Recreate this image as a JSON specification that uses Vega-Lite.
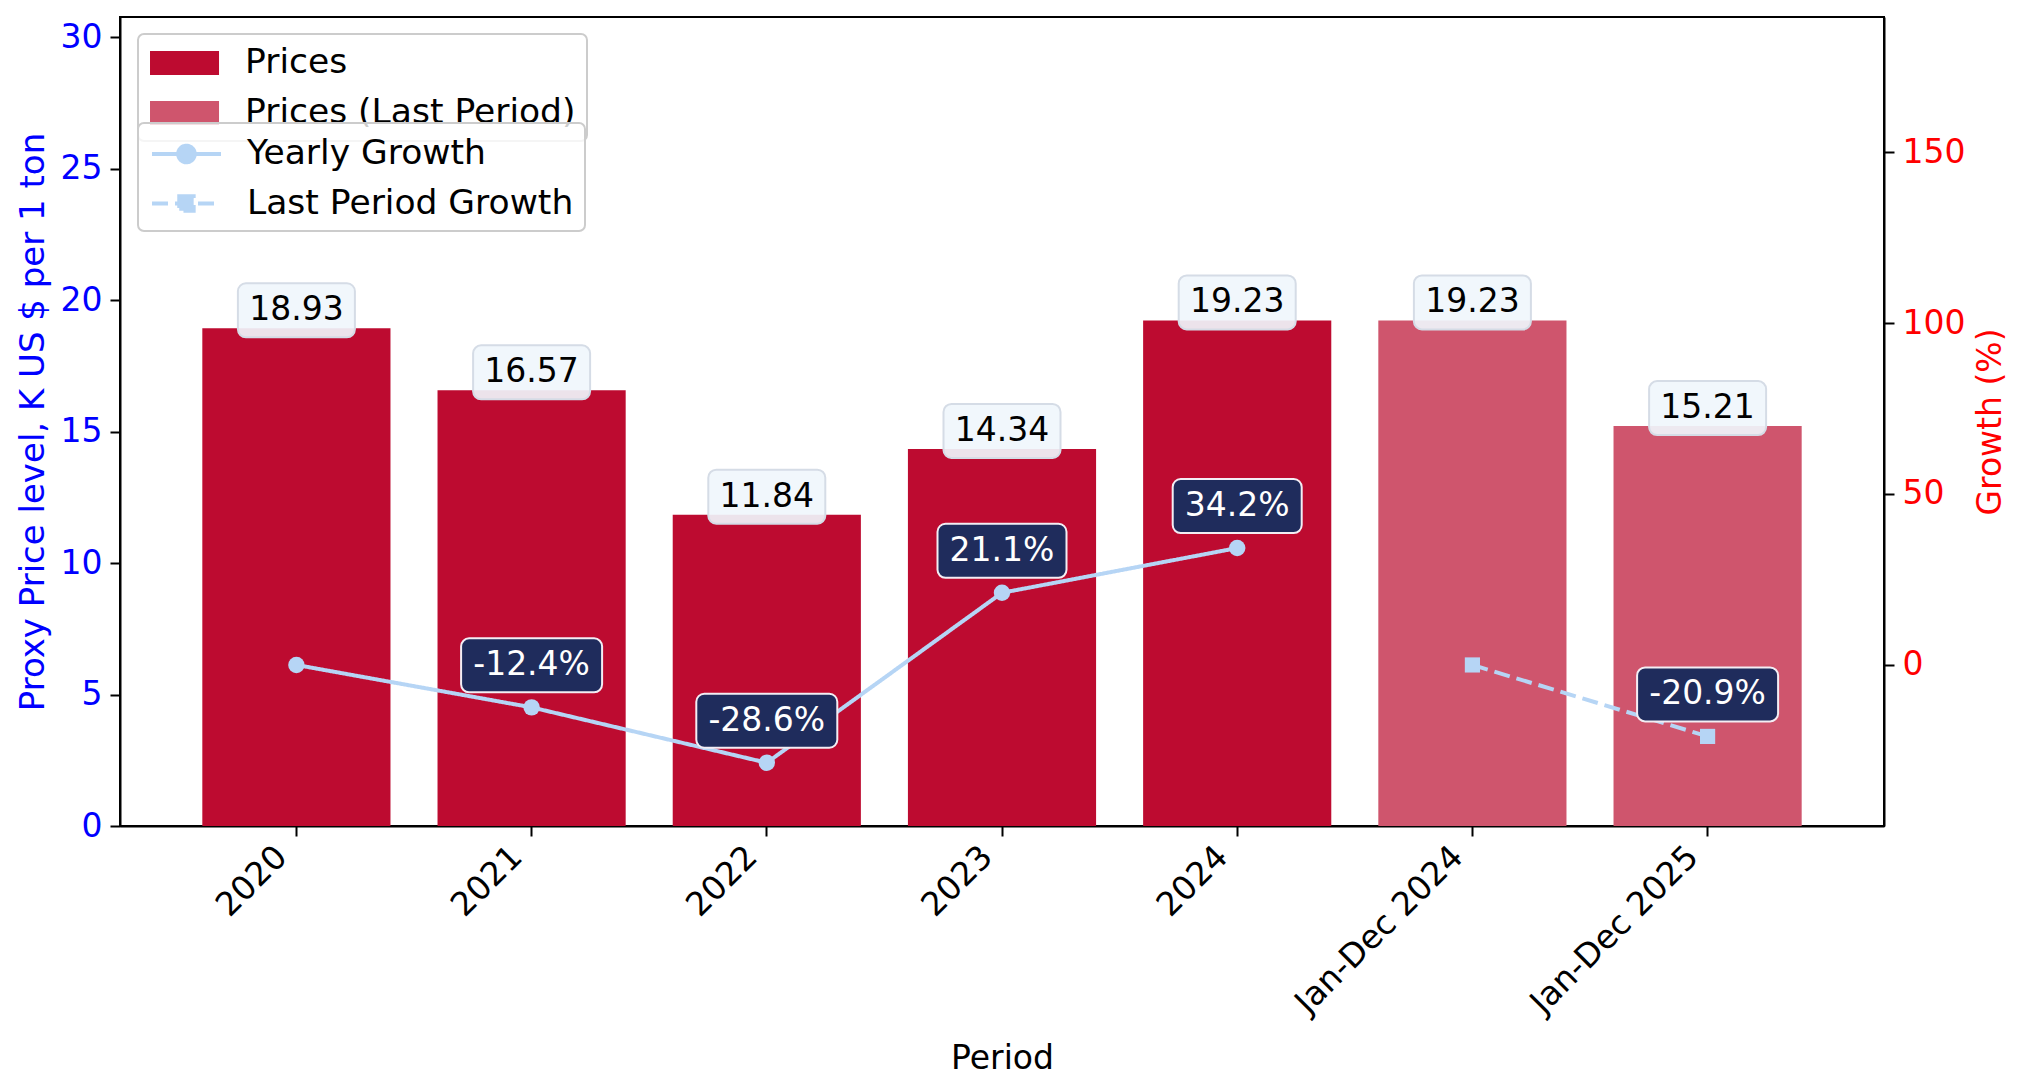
{
  "$schema": "https://vega.github.io/schema/vega-lite/v6.json",
  "width": 1764,
  "height": 809,
  "autosize": {"type": "none"},
  "padding": {"left": 120, "top": 17, "right": 141, "bottom": 261},
  "background": "white",
  "config": {
    "font": "DejaVu Sans",
    "view": {"stroke": "#000000", "strokeWidth": 2},
    "axis": {
      "domainColor": "#000000", "domainWidth": 2,
      "tickColor": "#000000", "tickWidth": 2, "tickSize": 10,
      "labelFont": "DejaVu Sans", "labelFontSize": 33,
      "titleFont": "DejaVu Sans", "titleFontSize": 33, "titleFontWeight": "normal",
      "grid": false
    }
  },
  "data": {
    "values": [
      {"period": "2020", "price": 18.93, "barType": "Prices", "growth": 0, "series": "Yearly Growth", "glabel": null},
      {"period": "2021", "price": 16.57, "barType": "Prices", "growth": -12.4, "series": "Yearly Growth", "glabel": "-12.4%"},
      {"period": "2022", "price": 11.84, "barType": "Prices", "growth": -28.6, "series": "Yearly Growth", "glabel": "-28.6%"},
      {"period": "2023", "price": 14.34, "barType": "Prices", "growth": 21.1, "series": "Yearly Growth", "glabel": "21.1%"},
      {"period": "2024", "price": 19.23, "barType": "Prices", "growth": 34.2, "series": "Yearly Growth", "glabel": "34.2%"},
      {"period": "Jan-Dec 2024", "price": 19.23, "barType": "Prices (Last Period)", "growth": 0, "series": "Last Period Growth", "glabel": null},
      {"period": "Jan-Dec 2025", "price": 15.21, "barType": "Prices (Last Period)", "growth": -20.9, "series": "Last Period Growth", "glabel": "-20.9%"}
    ]
  },
  "encoding": {
    "x": {
      "field": "period", "type": "nominal", "sort": null,
      "scale": {"type": "band", "paddingInner": 0.2, "paddingOuter": 0.35},
      "axis": {
        "title": "Period", "labelAngle": -45, "labelAlign": "right", "labelBaseline": "top",
        "labelPadding": 4, "labelOffset": -26, "labelColor": "#000000", "titleColor": "#000000",
        "titleY": 232, "titleBaseline": "middle", "labelLimit": 1000
      }
    }
  },
  "layer": [
    {
      "layer": [
        {
          "mark": {"type": "bar"},
          "encoding": {
            "y": {
              "field": "price", "type": "quantitative",
              "scale": {"domain": [0, 30.77], "nice": false, "zero": true},
              "axis": {
                "orient": "left", "title": "Proxy Price level, K US $ per 1 ton",
                "values": [0, 5, 10, 15, 20, 25, 30], "labelPadding": 8,
                "labelColor": "#0000FF", "titleColor": "#0000FF", "titleFontSize": 34,
                "titleX": -87, "titleY": 404.5, "titleAngle": -90,
                "titleAlign": "center", "titleBaseline": "middle"
              }
            },
            "fill": {
              "field": "barType", "type": "nominal",
              "scale": {"domain": ["Prices", "Prices (Last Period)"], "range": ["#BD0B30", "#CF556D"]},
              "legend": {
                "title": null, "orient": "none", "legendX": 18, "legendY": 17,
                "symbolType": "M-0.944,-0.667L2.89,-0.667L2.89,0.667L-0.944,0.667Z",
                "symbolSize": 1296, "symbolStrokeWidth": 0,
                "labelFontSize": 34.5, "labelFont": "DejaVu Sans", "labelColor": "#000000",
                "labelOffset": 60, "padding": 11, "rowPadding": 15, "labelLimit": 1000,
                "fillColor": "rgba(255,255,255,0.8)", "strokeColor": "#CCCCCC", "cornerRadius": 6,
                "encode": {"legend": {"update": {"strokeWidth": {"value": 2}}}}
              }
            }
          }
        },
        {
          "mark": {
            "type": "bar", "width": 117, "yOffset": -45, "y2Offset": 9, "cornerRadius": 8,
            "fill": "#F0F6FC", "fillOpacity": 0.92, "stroke": "#D5DCE6", "strokeWidth": 2
          },
          "encoding": {
            "y": {"field": "price", "type": "quantitative"},
            "y2": {"field": "price"}
          }
        },
        {
          "mark": {"type": "text", "baseline": "middle", "dy": -18, "fontSize": 33, "color": "#000000"},
          "encoding": {
            "y": {"field": "price", "type": "quantitative"},
            "text": {"field": "price", "type": "quantitative", "format": ".2f"}
          }
        }
      ]
    },
    {
      "layer": [
        {
          "mark": {"type": "line", "strokeWidth": 4},
          "encoding": {
            "y": {
              "field": "growth", "type": "quantitative",
              "scale": {"domain": [-47.1, 189.5], "nice": false, "zero": false},
              "axis": {
                "orient": "right", "title": "Growth (%)", "values": [0, 50, 100, 150],
                "labelPadding": 8, "labelColor": "#FF0000", "titleColor": "#FF0000",
                "titleX": 106, "titleY": 404.5, "titleAngle": -90,
                "titleAlign": "center", "titleBaseline": "middle"
              }
            },
            "stroke": {
              "field": "series", "type": "nominal",
              "scale": {"domain": ["Yearly Growth", "Last Period Growth"], "range": ["#B6D5F5", "#B6D5F5"]},
              "legend": {
                "title": null, "orient": "none", "legendX": 18, "legendY": 106,
                "symbolType": "M-0.944,0L2.89,0", "symbolSize": 1296, "symbolStrokeWidth": 4,
                "labelFontSize": 34.5, "labelFont": "DejaVu Sans", "labelColor": "#000000",
                "labelOffset": 58, "padding": 11, "rowPadding": 12.5, "labelLimit": 1000,
                "fillColor": "rgba(255,255,255,0.8)", "strokeColor": "#CCCCCC", "cornerRadius": 6,
                "encode": {
                  "legend": {"update": {"strokeWidth": {"value": 2}}},
                  "symbols": {
                    "update": {
                      "shape": {"signal": "datum.value === 'Yearly Growth' ? 'M-0.944,0L2.89,0M0.51,0A0.46,0.46,0,1,1,1.43,0A0.46,0.46,0,1,1,0.51,0Z' : 'M-0.944,0L2.89,0M0.57,-0.4L1.37,-0.4L1.37,0.4L0.57,0.4Z'"},
                      "fill": {"value": "#B6D5F5"},
                      "fillOpacity": {"value": 1},
                      "stroke": {"value": "#B6D5F5"},
                      "strokeDash": {"signal": "datum.value === 'Last Period Growth' ? [8, 5] : [1, 0]"}
                    }
                  }
                }
              }
            },
            "strokeDash": {
              "field": "series", "type": "nominal",
              "scale": {"domain": ["Yearly Growth", "Last Period Growth"], "range": [[1, 0], [16, 7]]},
              "legend": null
            }
          }
        },
        {
          "transform": [{"filter": "datum.series === 'Yearly Growth'"}],
          "mark": {"type": "point", "shape": "circle", "filled": true, "opacity": 1, "size": 270, "color": "#B6D5F5"},
          "encoding": {
            "y": {"field": "growth", "type": "quantitative"}
          }
        },
        {
          "transform": [{"filter": "datum.series === 'Last Period Growth'"}],
          "mark": {"type": "point", "shape": "square", "filled": true, "opacity": 1, "size": 230, "color": "#B6D5F5"},
          "encoding": {
            "y": {"field": "growth", "type": "quantitative"}
          }
        },
        {
          "transform": [{"filter": "datum.growth < 0"}],
          "mark": {
            "type": "bar", "width": 141, "yOffset": -69, "y2Offset": -15, "cornerRadius": 8,
            "fill": "#1F2C5C", "stroke": "#F3EEF4", "strokeWidth": 2
          },
          "encoding": {
            "y": {"field": "growth", "type": "quantitative"},
            "y2": {"field": "growth"}
          }
        },
        {
          "transform": [{"filter": "datum.growth > 0"}],
          "mark": {
            "type": "bar", "width": 129, "yOffset": -69, "y2Offset": -15, "cornerRadius": 8,
            "fill": "#1F2C5C", "stroke": "#F3EEF4", "strokeWidth": 2
          },
          "encoding": {
            "y": {"field": "growth", "type": "quantitative"},
            "y2": {"field": "growth"}
          }
        },
        {
          "transform": [{"filter": "datum.glabel != null"}],
          "mark": {"type": "text", "baseline": "middle", "dy": -42, "fontSize": 33, "color": "#FFFFFF"},
          "encoding": {
            "y": {"field": "growth", "type": "quantitative"},
            "text": {"field": "glabel", "type": "nominal"}
          }
        }
      ]
    }
  ],
  "resolve": {"scale": {"y": "independent"}, "axis": {"y": "independent"}}
}
